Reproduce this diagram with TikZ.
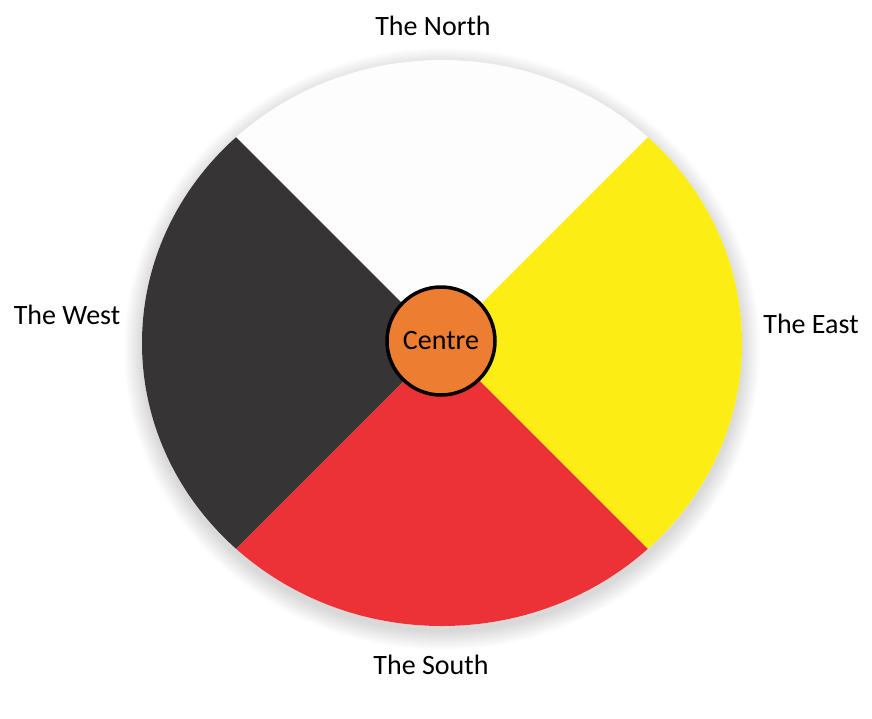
\documentclass[tikz,border=0pt]{standalone}
\usepackage{fontspec}
\setmainfont{Carlito}
\definecolor{northc}{HTML}{FDFDFD}
\definecolor{westc}{HTML}{373435}
\definecolor{eastc}{HTML}{FCEE14}
\definecolor{southc}{HTML}{EC3237}
\definecolor{centrec}{HTML}{ED7D31}
\tikzset{
  dirlabel/.style={font=\fontsize{28}{32}\selectfont, text=black, inner sep=0pt},
  centrebox/.style={circle, draw=black, line width=3.5pt, fill=centrec, minimum size=108pt, inner sep=0pt, font=\fontsize{28}{32}\selectfont},
  softshadow/.style={fill=black, opacity=0.007},
}
\begin{document}
\begin{tikzpicture}[x=1pt,y=-1pt]
\useasboundingbox (0,0) rectangle (872,718);
\fill[white] (0,0) rectangle (872,718);
\coordinate (c) at (442,343);
\coordinate (sc) at (442,349);
% soft shadow
\foreach \r in {0,1,...,18} {
  \fill[softshadow] (sc) ellipse [x radius=300+\r, y radius=283+\r];
}
\fill[northc] (c) ellipse [x radius=300, y radius=283];
\begin{scope}
\clip (c) ellipse [x radius=300, y radius=283];
\fill[westc] (c) -- ++(-600,-600) -- ++(0,1200) -- cycle;
\fill[eastc] (c) -- ++(600,-600) -- ++(0,1200) -- cycle;
\fill[southc] (c) -- ++(-600,600) -- ++(1200,0) -- cycle;
\end{scope}
\node[centrebox] (centre) at (441,341) {Centre};
\node[dirlabel] (north) at (433,26) {The North};
\node[dirlabel] (south) at (431,665) {The South};
\node[dirlabel] (west) at (67,315) {The West};
\node[dirlabel] (east) at (811,324) {The East};
\end{tikzpicture}
\end{document}
